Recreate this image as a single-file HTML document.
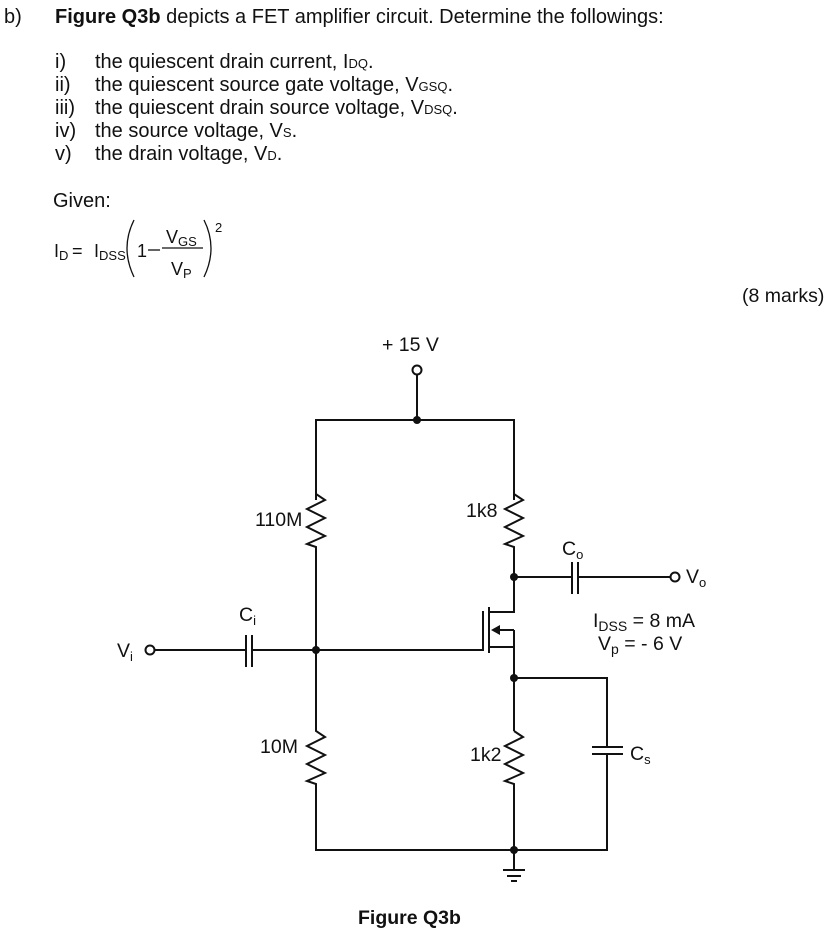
<!DOCTYPE html>
<html><head><meta charset="utf-8"><style>
html,body{margin:0;padding:0;background:#fff;}
svg{display:block;font-family:"Liberation Sans",Arial,sans-serif;}
</style></head><body>
<svg width="831" height="936" viewBox="0 0 831 936" xmlns="http://www.w3.org/2000/svg">
<g font-size="19.5" fill="#111">
<g font-size="20">
<text x="4" y="23">b)</text>
<text x="55" y="23"><tspan font-weight="bold">Figure Q3b</tspan> depicts a FET amplifier circuit. Determine the followings:</text>
<text x="55" y="68">i)</text><text x="95" y="68">the quiescent drain current, I<tspan font-size="13">DQ</tspan>.</text>
<text x="55" y="91">ii)</text><text x="95" y="91">the quiescent source gate voltage, V<tspan font-size="13">GSQ</tspan>.</text>
<text x="55" y="114">iii)</text><text x="95" y="114">the quiescent drain source voltage, V<tspan font-size="13">DSQ</tspan>.</text>
<text x="55" y="137">iv)</text><text x="95" y="137">the source voltage, V<tspan font-size="13">S</tspan>.</text>
<text x="55" y="160">v)</text><text x="95" y="160">the drain voltage, V<tspan font-size="13">D</tspan>.</text>
<text x="53" y="207">Given:</text>
</g>
<g font-size="18">
<text x="54" y="257">I<tspan font-size="13" dy="3">D</tspan></text>
<text x="72" y="257">=</text>
<text x="94" y="257">I<tspan font-size="13" dy="3">DSS</tspan></text>
<text x="137" y="257">1</text>
<text x="166" y="243">V<tspan font-size="13" dy="3">GS</tspan></text>
<text x="171" y="275">V<tspan font-size="13" dy="3">P</tspan></text>
</g>
<text x="215" y="232" font-size="13">2</text>
<text x="742" y="302">(8 marks)</text>
<text x="382" y="351">+ 15 V</text>
<text x="255" y="526">110M</text>
<text x="466" y="517">1k8</text>
<text x="260" y="753">10M</text>
<text x="470" y="761">1k2</text>
<text x="562" y="555">C<tspan font-size="13" dy="4">o</tspan></text>
<text x="686" y="583">V<tspan font-size="13" dy="4">o</tspan></text>
<text x="239" y="621">C<tspan font-size="13" dy="4">i</tspan></text>
<text x="117" y="657">V<tspan font-size="13" dy="4">i</tspan></text>
<text x="630" y="760">C<tspan font-size="13" dy="4">s</tspan></text>
<text x="593" y="627">I<tspan font-size="14" dy="4">DSS</tspan><tspan dy="-4"> = 8 mA</tspan></text>
<text x="598" y="650">V<tspan font-size="14" dy="4">p</tspan><tspan dy="-4">  = - 6 V</tspan></text>
<text x="358" y="924" font-weight="bold">Figure Q3b</text>
</g>
<g fill="none" stroke="#111" stroke-width="1.3">
<line x1="148" y1="250" x2="160" y2="250"/>
<line x1="162" y1="248" x2="203" y2="248"/>
<path d="M134 220 Q120 248 134 277"/>
<path d="M204 220 Q218 248 204 277"/>
</g>
<g fill="none" stroke="#111" stroke-width="2">
<line x1="417" y1="374" x2="417" y2="420"/>
<polyline points="316,500 316,420 514,420 514,500"/>
<polyline points="316,490 316,494 325,500 307,509 325,518 307,527 325,536 307,544 316,547 316,650"/>
<polyline points="316,650 316,731 325,737 307,746 325,755 307,764 325,773 307,781 316,784 316,850 514,850"/>
<polyline points="514,500 514,494 523,500 505,509 523,518 505,527 523,536 505,544 514,547 514,612 489,612"/>
<line x1="514" y1="577" x2="572" y2="577"/>
<line x1="578" y1="577" x2="671" y2="577"/>
<line x1="572" y1="562" x2="572" y2="594"/>
<line x1="578" y1="562" x2="578" y2="594"/>
<line x1="154" y1="650" x2="246" y2="650"/>
<line x1="252" y1="650" x2="483" y2="650"/>
<line x1="246" y1="635" x2="246" y2="667"/>
<line x1="252" y1="635" x2="252" y2="667"/>
<line x1="483" y1="611" x2="483" y2="651"/>
<line x1="489" y1="607" x2="489" y2="653"/>
<polyline points="514,630 496,630"/>
<polyline points="489,647 514,647 514,731"/>
<line x1="514" y1="630" x2="514" y2="647"/>
<polyline points="514,731 523,737 505,746 523,755 505,764 523,773 505,781 514,784 514,870"/>
<polyline points="514,678 607,678 607,747"/>
<polyline points="607,754 607,850 514,850"/>
<line x1="592" y1="747" x2="623" y2="747"/>
<line x1="592" y1="754" x2="623" y2="754"/>
<line x1="503" y1="870" x2="525" y2="870"/>
<line x1="507" y1="876" x2="521" y2="876"/>
<line x1="511" y1="881" x2="517" y2="881"/>
</g>
<polygon points="491,630 500,625 500,635" fill="#111"/>
<g fill="#fff" stroke="#111" stroke-width="2">
<circle cx="417" cy="370" r="4.5"/>
<circle cx="150" cy="650" r="4.5"/>
<circle cx="675" cy="577" r="4.5"/>
</g>
<g fill="#111">
<circle cx="417" cy="420" r="4"/>
<circle cx="316" cy="650" r="4"/>
<circle cx="514" cy="577" r="4"/>
<circle cx="514" cy="678" r="4"/>
<circle cx="514" cy="850" r="4"/>
</g>
</svg>
</body></html>
